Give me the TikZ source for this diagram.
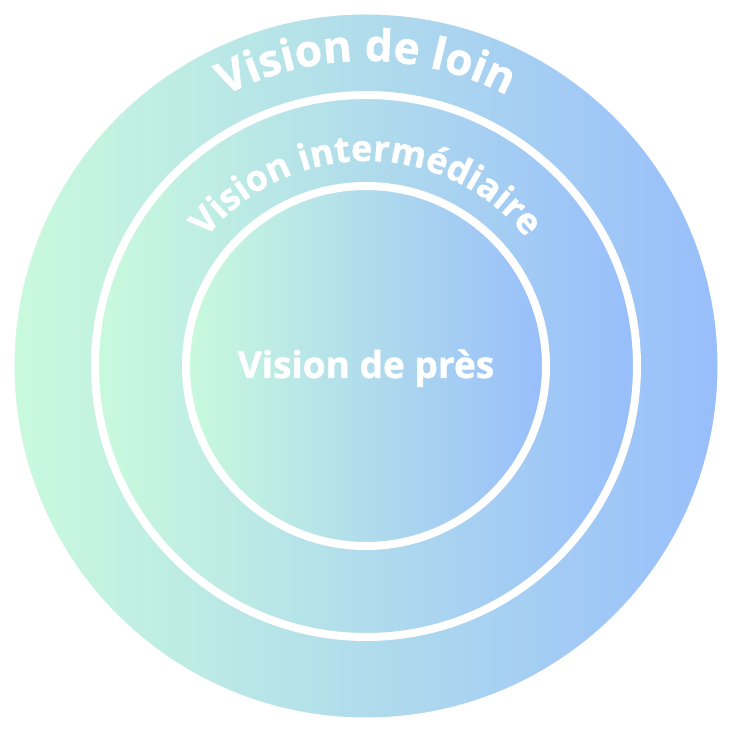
\documentclass[tikz,border=0pt]{standalone}
\usepackage{fontspec}
\setmainfont{Open Sans}[BoldFeatures={FakeBold=1.2}]
\usetikzlibrary{decorations.text}
\definecolor{mint}{RGB}{201,250,221}
\definecolor{sky}{RGB}{152,190,251}
\begin{document}
\begin{tikzpicture}[x=1pt,y=1pt,
  disc/.style={left color=mint,right color=sky},
  ring/.style={disc,draw=white,line width=8pt}]
\useasboundingbox (-366,-364) rectangle (365,366);
\path[disc,draw=white,line width=1pt] (0,0) circle[radius=352];
\path[ring] (0,0) circle[radius=271];
\path[ring] (0,0) circle[radius=180];
\path[decorate, decoration={text along path, text align=center, text color=white,
  text={|\fontsize{44}{44}\selectfont\bfseries|Vision de loin}}]
  (150:305) arc[start angle=150,end angle=30,radius=305];
\path[decorate, decoration={text along path, text align=center, text color=white,
  text={|\fontsize{36}{36}\selectfont\bfseries|Vision intermédiaire}}]
  (165:205) arc[start angle=165,end angle=15,radius=205];
\node[text=white, font=\fontsize{37}{37}\selectfont\bfseries, anchor=base, inner sep=0pt] (near) at (0,-12) {Vision de près};
\end{tikzpicture}
\end{document}
